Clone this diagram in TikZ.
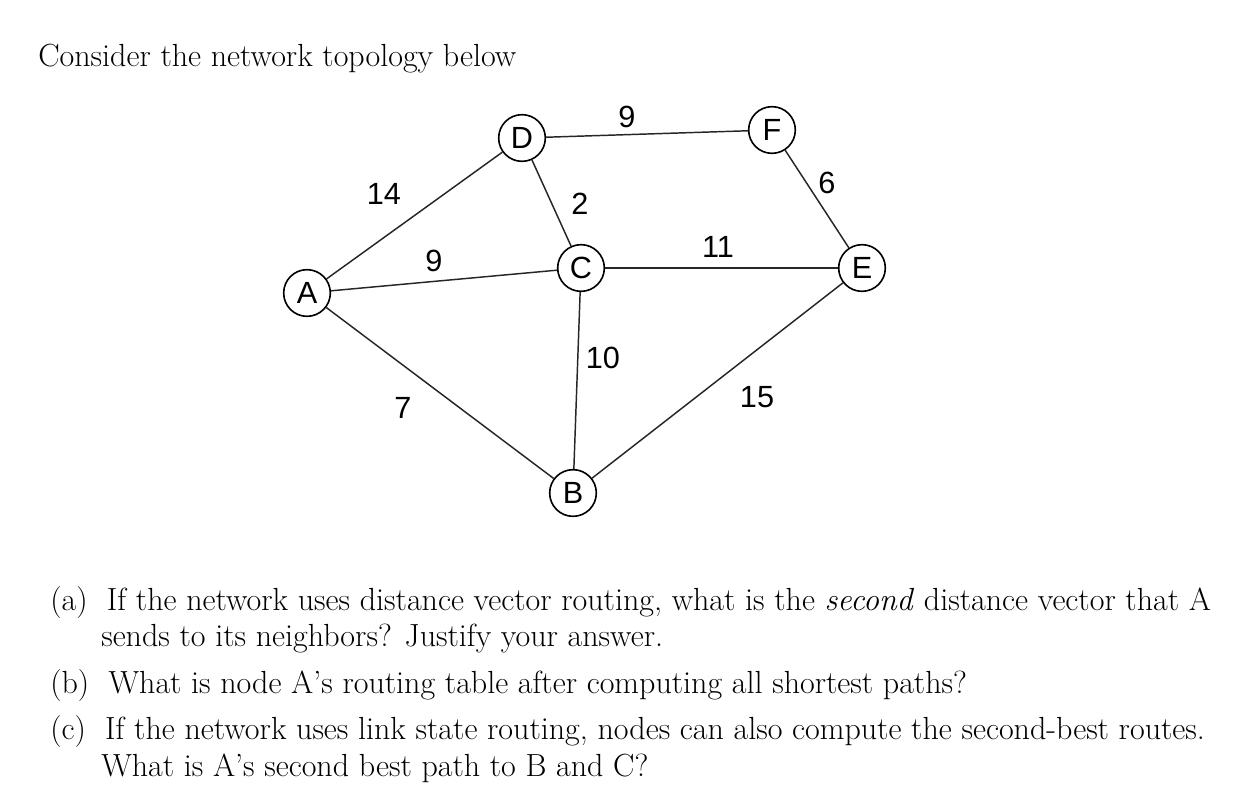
\documentclass[tikz,border=0pt]{standalone}
\usepackage{fontspec}
\newfontfamily\nodefont{Liberation Sans}
\begin{document}
\begin{tikzpicture}[x=0.75pt,y=-0.75pt,
  vert/.style={circle,draw,line width=1.2pt,minimum size=35pt,inner sep=0pt,font=\nodefont\fontsize{23}{25}\selectfont},
  wt/.style={font=\nodefont\fontsize{23}{25}\selectfont},
  edge/.style={line width=1.1pt,draw=black!85},
  txt/.style={anchor=base west,inner sep=0pt,font=\fontsize{24}{28}\selectfont}]
\useasboundingbox (0,0) rectangle (1247,803);
\node[vert] (D) at (522,138) {D};
\node[vert] (F) at (772,130) {F};
\node[vert] (A) at (307,293) {A};
\node[vert] (C) at (581,268) {C};
\node[vert] (E) at (862,268) {E};
\node[vert] (B) at (573,493) {B};
\draw[edge] (D)--(F); \draw[edge] (D)--(A); \draw[edge] (D)--(C);
\draw[edge] (F)--(E); \draw[edge] (A)--(C); \draw[edge] (C)--(E);
\draw[edge] (C)--(B); \draw[edge] (A)--(B); \draw[edge] (B)--(E);
\node[wt] (w1) at (384,194) {14};
\node[wt] (w2) at (627,117) {9};
\node[wt] (w3) at (580,204) {2};
\node[wt] (w4) at (827,183) {6};
\node[wt] (w5) at (434,261) {9};
\node[wt] (w6) at (718,247) {11};
\node[wt] (w7) at (603,358) {10};
\node[wt] (w8) at (403,408) {7};
\node[wt] (w9) at (757,397) {15};
\node[txt] (t0) at (38,66) {Consider the network topology below};
\node[txt] (t1) at (50,610) {(a)\ \ If the network uses distance vector routing, what is the \textit{second} distance vector that A};
\node[txt] (t2) at (101,646) {sends to its neighbors? Justify your answer.};
\node[txt] (t3) at (50,693) {(b)\ \ What is node A's routing table after computing all shortest paths?};
\node[txt] (t4) at (50,739) {(c)\ \ If the network uses link state routing, nodes can also compute the second-best routes.};
\node[txt] (t5) at (101,776) {What is A's second best path to B and C?};
\end{tikzpicture}
\end{document}
